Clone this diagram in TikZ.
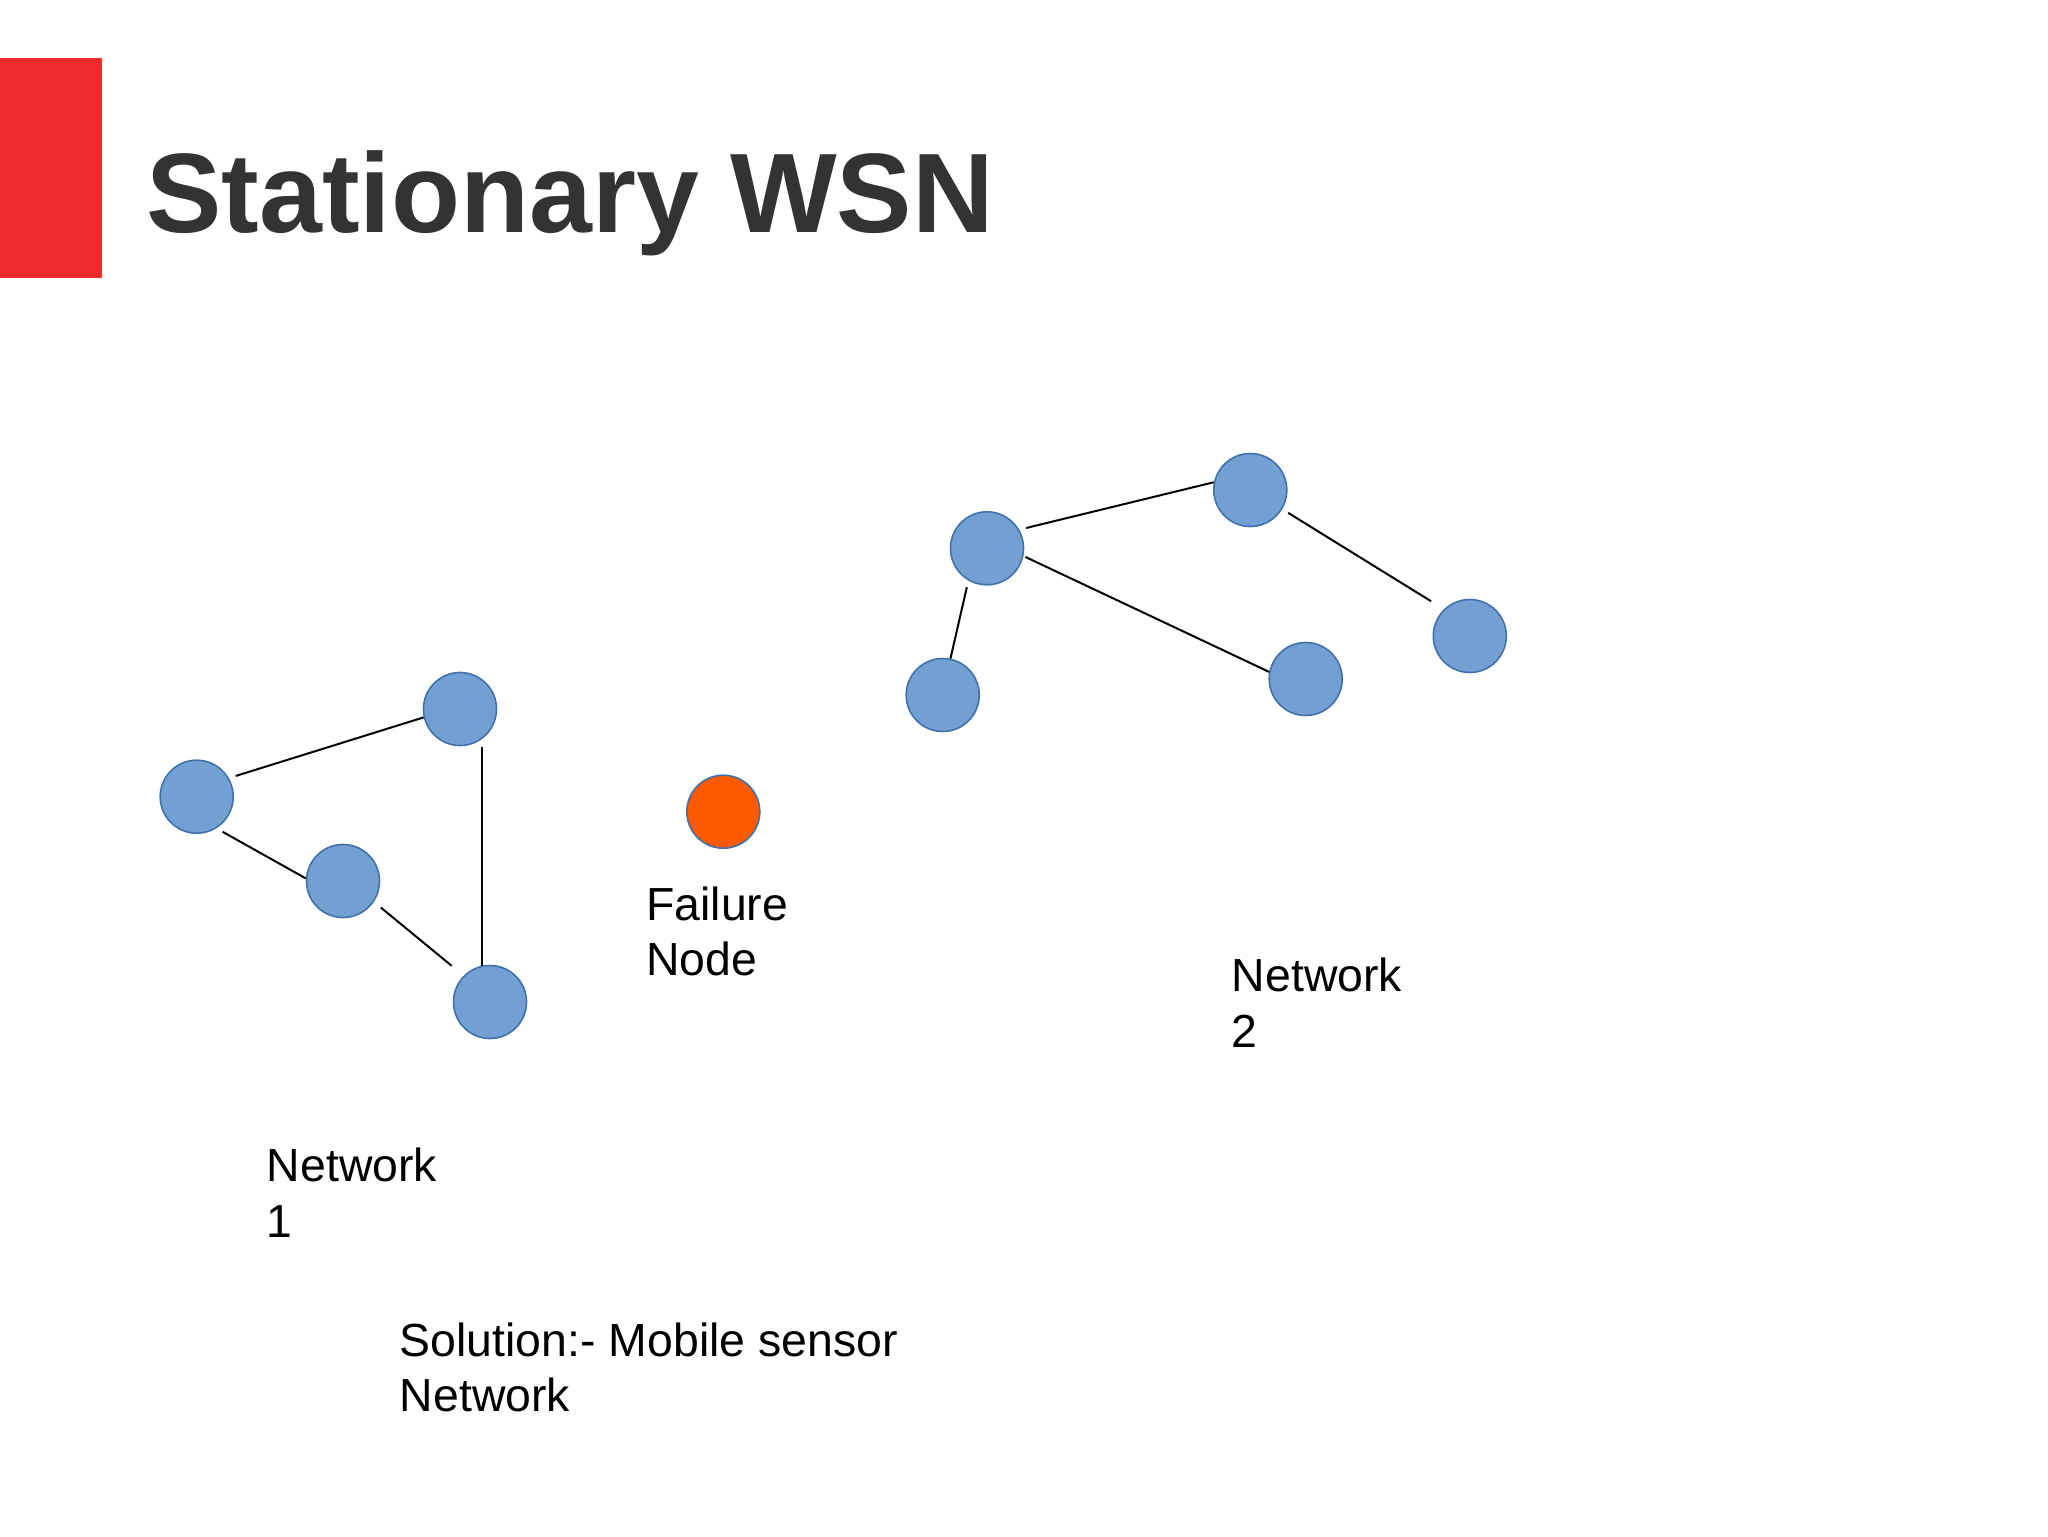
\documentclass[tikz,border=0pt]{standalone}
\usepackage{fontspec}
\setmainfont{Liberation Sans}
\newfontfamily\titlefont{Liberation Sans}
\definecolor{nodeblue}{RGB}{115,160,210}
\definecolor{nodeborder}{RGB}{65,113,170}
\definecolor{failorange}{RGB}{255,90,0}
\definecolor{barred}{RGB}{238,42,45}
\definecolor{titlegray}{RGB}{51,51,51}
\begin{document}
\begin{tikzpicture}[x=0.5pt,y=-0.5pt,
  sensor/.style={circle,draw=nodeborder,fill=nodeblue,line width=0.8pt,minimum size=36.5pt,inner sep=0pt},
  failed/.style={sensor,fill=failorange},
  link/.style={draw=black,line width=1pt},
  lbl/.style={anchor=base west,align=left,inner sep=0pt,font=\fontsize{23.2}{27.75}\selectfont}
]
\useasboundingbox[fill=white] (0,0) rectangle (2048,1536);
\fill[barred] (0,58.5) rectangle (102,278);
\node[anchor=base west,inner sep=0pt,text=titlegray,font=\titlefont\bfseries\fontsize{56.5}{60}\selectfont] (title) at (146,232.7) {Stationary WSN};

% Network 1
\node[sensor] (A) at (460,709) {};
\node[sensor] (B) at (196.7,796.7) {};
\node[sensor] (C) at (343,881) {};
\node[sensor] (D) at (490,1002) {};
\draw[link, shorten <=3.5pt] (B.30) -- (A.193);
\draw[link, shorten <=3.5pt] (B.302) -- (C.176);
\draw[link, shorten <=4.5pt, shorten >=7.75pt] (C.326) -- (D.135);
\draw[link, shorten <=2.85pt] (D.102 |- A.301) -- (D.102);

% Failure node
\node[failed] (X) at (723.3,811.7) {};

% Network 2
\node[sensor] (E) at (1250.3,490) {};
\node[sensor] (F) at (987,548.3) {};
\node[sensor] (G) at (942.7,695) {};
\node[sensor] (H) at (1305.7,679) {};
\node[sensor] (I) at (1469.8,636) {};
\draw[link, shorten <=3.5pt] (F.30) -- (E.168.5);
\draw[link, shorten <=3.5pt, shorten >=7.5pt] (E.329) -- (I.134.5);
\draw[link, shorten <=3.4pt] (F.240) -- (G.78);
\draw[link, shorten <=1pt] (F.348.4) -- (H.169.5);

% Labels (anchor on the baseline of the last line)
\node[lbl] (failtext) at (646,975.5) {Failure\\Node};
\node[lbl] (net2) at (1231.5,1047) {Network\\2};
\node[lbl] (net1) at (266.5,1237) {Network\\1};
\node[lbl] (sol) at (399.5,1411.5) {Solution:- Mobile sensor\\Network};
\end{tikzpicture}
\end{document}
